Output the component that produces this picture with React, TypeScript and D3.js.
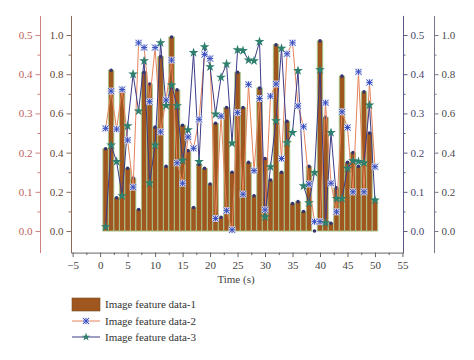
import * as d3 from 'd3';
import { useEffect, useRef } from 'react';

const width = 474;
const height = 360;

// time axis (s)
const times = [
    1, 2, 3, 4, 5, 6, 7, 8, 9, 10, 11, 12, 13, 14, 15, 16, 17, 18, 19, 20, 21, 22, 23, 24, 25,
    26, 27, 28, 29, 30, 31, 32, 33, 34, 35, 36, 37, 38, 39, 40, 41, 42, 43, 44, 45, 46, 47, 48, 49, 50,
];

// Image feature data-1 (bars, left inner axis 0..1)
const data1 = [
    0.42, 0.82, 0.17, 0.72, 0.32, 0.27, 0.11, 0.81, 0.75, 0.53, 0.89, 0.33, 0.99, 0.72, 0.54, 0.41,
    0.12, 0.34, 0.32, 0.24, 0.55, 0.07, 0.63, 0.3, 0.81, 0.63, 0.35, 0.18, 0.73, 0.37, 0.26, 0.95,
    0.3, 0.56, 0.14, 0.15, 0.1, 0.33, 0.0, 0.97, 0.58, 0.04, 0.22, 0.79, 0.35, 0.4, 0.33, 0.71, 0.5,
    0.16,
];

// Image feature data-2 (orange line, left outer axis 0..0.5)
const data2 = [
    0.262, 0.357, 0.26, 0.361, 0.232, 0.112, 0.48, 0.468, 0.33, 0.468, 0.253, 0.334, 0.436, 0.174,
    0.122, 0.24, 0.211, 0.285, 0.45, 0.44, 0.032, 0.293, 0.052, 0.003, 0.302, 0.094, 0.374, 0.154,
    0.338, 0.054, 0.344, 0.375, 0.185, 0.452, 0.48, 0.319, 0.266, 0.12, 0.024, 0.024, 0.327, 0.122,
    0.049, 0.304, 0.264, 0.1, 0.406, 0.1, 0.379, 0.164,
];

// Image feature data-3 (navy line, right inner axis 0..0.5)
const data3 = [
    0.011, 0.219, 0.177, 0.09, 0.268, 0.4, 0.306, 0.434, 0.122, 0.219, 0.48, 0.32, 0.372, 0.319,
    0.18, 0.258, 0.455, 0.177, 0.47, 0.419, 0.298, 0.392, 0.426, 0.224, 0.462, 0.46, 0.436, 0.434,
    0.483, 0.036, 0.164, 0.281, 0.466, 0.225, 0.251, 0.409, 0.115, 0.072, 0.149, 0.411, 0.021, 0.251,
    0.083, 0.083, 0.16, 0.179, 0.177, 0.174, 0.321, 0.079,
];

const xTicks = [-5, 0, 5, 10, 15, 20, 25, 30, 35, 40, 45, 50, 55];
const halfTicks = [0, 0.1, 0.2, 0.3, 0.4, 0.5];
const fullTicks = [0, 0.2, 0.4, 0.6, 0.8, 1.0];
const legendLabels = ['Image feature data-1', 'Image feature data-2', 'Image feature data-3'];

const font = "'Liberation Serif', 'Times New Roman', 'DejaVu Serif', serif";
const brown = '#a0561f';
const barEdge = '#a9c98e';
const orange = '#e5835c';
const navy = '#3d3b87';
const teal = '#2e7f6e';
const asteriskBlue = '#3a4fbf';

function drawAsterisk(g: d3.Selection<SVGGElement, unknown, null, undefined>, cx: number, cy: number) {
    const m = g.append('g').attr('transform', `translate(${cx},${cy})`);
    m.append('rect')
        .attr('x', -3.5)
        .attr('y', -3.5)
        .attr('width', 7)
        .attr('height', 7)
        .attr('fill', '#dde2f6')
        .attr('opacity', 0.85);
    const s = 3;
    const segs = [
        [-s, 0, s, 0],
        [0, -s, 0, s],
        [-s, -s, s, s],
        [-s, s, s, -s],
    ];
    segs.forEach(([x1, y1, x2, y2]) =>
        m
            .append('line')
            .attr('x1', x1)
            .attr('y1', y1)
            .attr('x2', x2)
            .attr('y2', y2)
            .attr('stroke', asteriskBlue)
            .attr('stroke-width', 1),
    );
}

export default function App() {
    const ref = useRef<SVGSVGElement>(null);

    useEffect(() => {
        document.body.style.margin = '0';
        if (!ref.current) return;
        const svg = d3.select(ref.current);
        svg.selectAll('*').remove();

        const x = d3.scaleLinear().domain([-5.3, 55.1]).range([71, 403]);
        const yFull = d3.scaleLinear().domain([-0.11, 1.1]).range([252.6, 15.4]);
        const yHalf = d3.scaleLinear().domain([-0.055, 0.55]).range([252.6, 15.4]);
        const fmt = d3.format('.1f');

        const styleAxis = (
            g: d3.Selection<SVGGElement, unknown, null, undefined>,
            line: string,
            text: string,
        ) => {
            g.attr('font-family', font).attr('font-size', 11);
            g.selectAll('path,line').attr('stroke', line);
            g.selectAll('text').attr('fill', text).attr('font-family', font).attr('font-size', 11);
        };

        // y axes: [position, scale, major ticks, minor step, side, line colour, text colour]
        const yAxes: [number, d3.ScaleLinear<number, number>, number[], number, 'left' | 'right', string, string][] = [
            [40, yHalf, halfTicks, 0.05, 'left', '#d08080', '#c0605a'],
            [71, yFull, fullTicks, 0.1, 'left', '#8a6a58', '#5e4536'],
            [403, yHalf, halfTicks, 0.05, 'right', '#5a5a88', '#45456a'],
            [434, yFull, fullTicks, 0.1, 'right', '#77778a', '#4a4a4a'],
        ];

        yAxes.forEach(([pos, scale, ticks, minor, side, lc, tc]) => {
            const make = side === 'left' ? d3.axisLeft : d3.axisRight;
            const minorTicks = ticks.slice(0, -1).map((t) => t + minor);
            const gMinor = svg.append('g').attr('transform', `translate(${pos},0)`);
            gMinor.call(make(scale).tickValues(minorTicks).tickSize(2.5).tickFormat(() => '').tickSizeOuter(0));
            gMinor.select('.domain').remove();
            styleAxis(gMinor, lc, tc);
            const g = svg.append('g').attr('transform', `translate(${pos},0)`);
            g.call(make(scale).tickValues(ticks).tickSize(4.5).tickPadding(3).tickFormat((d) => fmt(d as number)).tickSizeOuter(0));
            styleAxis(g, lc, tc);
        });

        // x axis
        const gxMinor = svg.append('g').attr('transform', 'translate(0,252.6)');
        gxMinor.call(
            d3
                .axisBottom(x)
                .tickValues(xTicks.slice(0, -1).map((t) => t + 2.5))
                .tickSize(2.5)
                .tickFormat(() => '')
                .tickSizeOuter(0),
        );
        gxMinor.select('.domain').remove();
        styleAxis(gxMinor, '#666', '#444');
        const gx = svg.append('g').attr('transform', 'translate(0,252.6)');
        gx.call(d3.axisBottom(x).tickValues(xTicks).tickSize(4.5).tickPadding(4).tickSizeOuter(0));
        styleAxis(gx, '#666', '#444');

        svg.append('text')
            .attr('x', 236)
            .attr('y', 283)
            .attr('text-anchor', 'middle')
            .attr('font-family', font)
            .attr('font-size', 11)
            .attr('fill', '#444')
            .text('Time (s)');

        // bars: full pitch, thin light-green separators
        const bw = x(1) - x(0);
        const plot = svg.append('g');
        plot.selectAll('rect.bar')
            .data(data1)
            .join('rect')
            .attr('class', 'bar')
            .attr('x', (_, i) => x(times[i]) - bw / 2)
            .attr('y', (d) => yFull(d))
            .attr('width', bw)
            .attr('height', (d) => yFull(0) - yFull(d))
            .attr('fill', brown)
            .attr('stroke', barEdge)
            .attr('stroke-width', 0.9);

        plot.selectAll('circle.cap')
            .data(data1)
            .join('circle')
            .attr('class', 'cap')
            .attr('cx', (_, i) => x(times[i]))
            .attr('cy', (d) => yFull(d))
            .attr('r', 1.8)
            .attr('fill', '#34336e');

        // lines
        const line = d3
            .line<number>()
            .x((_, i) => x(times[i]))
            .y((d) => yHalf(d));

        plot.append('path')
            .attr('d', line(data2))
            .attr('fill', 'none')
            .attr('stroke', orange)
            .attr('stroke-width', 1);

        plot.append('path')
            .attr('d', line(data3))
            .attr('fill', 'none')
            .attr('stroke', navy)
            .attr('stroke-width', 1);

        data2.forEach((d, i) => drawAsterisk(plot, x(times[i]), yHalf(d)));

        const star = d3.symbol().type(d3.symbolStar).size(30);
        plot.selectAll('path.star')
            .data(data3)
            .join('path')
            .attr('class', 'star')
            .attr('d', star)
            .attr('transform', (d, i) => `translate(${x(times[i])},${yHalf(d)})`)
            .attr('fill', teal);

        // legend
        const legend = svg.append('g').attr('font-family', font).attr('font-size', 11);
        const rowY = [304.5, 321, 337];
        legend.append('rect')
            .attr('x', 72)
            .attr('y', 298)
            .attr('width', 28)
            .attr('height', 13)
            .attr('fill', brown)
            .attr('stroke', '#7a4a20')
            .attr('stroke-width', 0.6);
        legend.append('line')
            .attr('x1', 72)
            .attr('x2', 100)
            .attr('y1', rowY[1])
            .attr('y2', rowY[1])
            .attr('stroke', orange);
        drawAsterisk(legend, 86, rowY[1]);
        legend.append('line')
            .attr('x1', 72)
            .attr('x2', 100)
            .attr('y1', rowY[2])
            .attr('y2', rowY[2])
            .attr('stroke', navy);
        legend.append('path')
            .attr('d', d3.symbol().type(d3.symbolStar).size(22))
            .attr('transform', `translate(86,${rowY[2]})`)
            .attr('fill', teal);
        legendLabels.forEach((label, i) =>
            legend
                .append('text')
                .attr('x', 105)
                .attr('y', rowY[i])
                .attr('dy', '0.35em')
                .attr('fill', '#333')
                .text(label),
        );
    }, []);

    return (
        <div style={{ width, height, background: '#fff' }}>
            <svg ref={ref} width={width} height={height} />
        </div>
    );
}
